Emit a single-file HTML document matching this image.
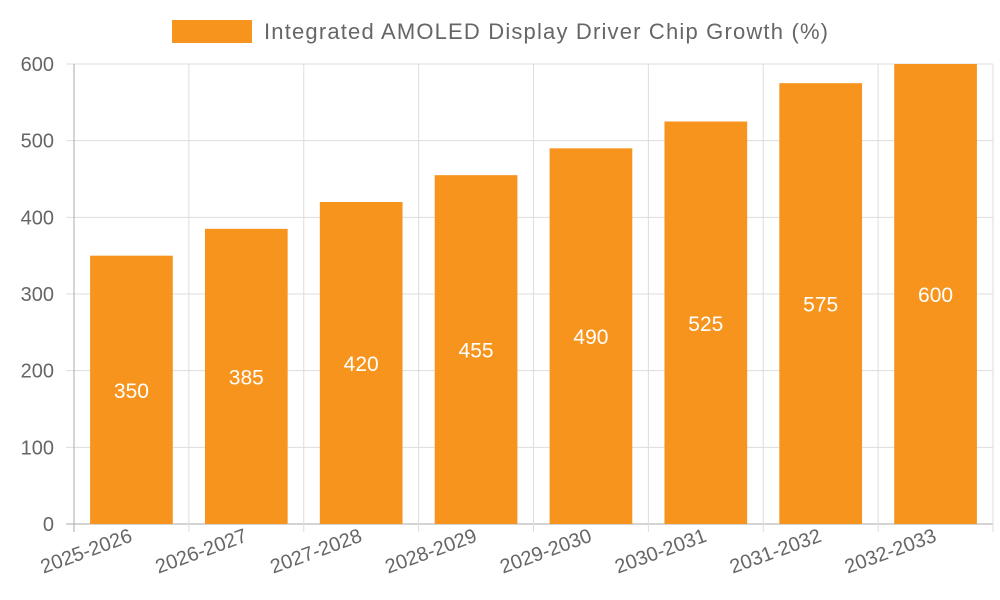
<!DOCTYPE html>
<html><head><meta charset="utf-8">
<style>
html,body{margin:0;padding:0;background:#fff;}
svg{display:block;font-family:"Liberation Sans",sans-serif;}
</style></head>
<body>
<svg id="chart" width="1000" height="600" viewBox="0 0 1000 600" xmlns="http://www.w3.org/2000/svg">
  <g>
    <rect x="172" y="20" width="80" height="23" fill="#f7941e"/>
    <text x="264" y="39" font-size="22" fill="#666" textLength="564" lengthAdjust="spacing">Integrated AMOLED Display Driver Chip Growth (%)</text>
  </g>
  <g id="grid"></g>
  <g id="bars"></g>
  <g id="axes"></g>
</svg>
<script>
const categories = ["2025-2026","2026-2027","2027-2028","2028-2029","2029-2030","2030-2031","2031-2032","2032-2033"];
const values = [350,385,420,455,490,525,575,600];
const yTicks = [0,100,200,300,400,500,600];

const NS = "http://www.w3.org/2000/svg";
const plotLeft = 74, plotRight = 993, plotTop = 64, plotBottom = 524, yMax = 600;
const band = (plotRight - plotLeft) / categories.length;
function yScale(v){ return plotBottom - v / yMax * (plotBottom - plotTop); }
function xc(i){ return plotLeft + band * (i + 0.5); }
function mk(tag, attrs, parent){
  const e = document.createElementNS(NS, tag);
  for (const k in attrs) e.setAttribute(k, attrs[k]);
  parent.appendChild(e);
  return e;
}
const gridG = document.getElementById("grid");
const barsG = document.getElementById("bars");
const axesG = document.getElementById("axes");

yTicks.forEach(t => {
  const l = mk("line", {x1: plotLeft - 8, x2: plotRight, y1: yScale(t), y2: yScale(t), stroke: t === 0 ? "#aaa" : "#ddd", "stroke-width": 1}, gridG);
  
  
  const tx = mk("text", {x: plotLeft - 20, y: yScale(t) + 7, "text-anchor": "end", "font-size": 20, fill: "#666"}, axesG);
  tx.textContent = t;
  
  
});
for (let i = 0; i <= categories.length; i++) {
  const x = plotLeft + band * i;
  const l = mk("line", {x1: x, x2: x, y1: plotTop, y2: plotBottom + 8, stroke: i === 0 ? "#aaa" : "#ddd", "stroke-width": 1}, gridG);
  
  
}
categories.forEach((c, i) => {
  const w = band * 0.72;
  const r = mk("rect", {x: xc(i) - w / 2, y: yScale(values[i]), width: w, height: plotBottom - yScale(values[i]), fill: "#f7941e"}, barsG);
  
  
  const v = mk("text", {x: xc(i), y: (yScale(values[i]) + plotBottom) / 2 + 8, "text-anchor": "middle", "font-size": 21, fill: "#fff"}, barsG);
  v.textContent = values[i];
  
  
  const cx = xc(i) + 2, cy = 541;
  const t = mk("text", {x: cx, y: cy, "text-anchor": "end", "font-size": 20, fill: "#666", transform: "rotate(-20 " + cx + " " + cy + ")"}, axesG);
  t.textContent = c;
  
  
});
</script>
</body></html>
